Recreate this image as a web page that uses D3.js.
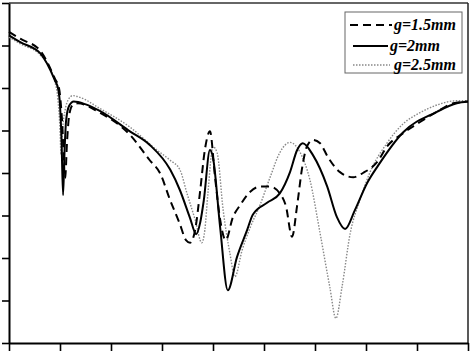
<!DOCTYPE html>
<html><head><meta charset="utf-8">
<script src="https://cdn.jsdelivr.net/npm/d3@7"></script>
<style>body{margin:0;background:#fff}svg{display:block}</style>
</head><body>
<svg id="c" width="474" height="353"></svg>
<script>
// x positions (arbitrary units, 9 intervals) and S-parameter-like values (dB)
const xTicks = [0,1,2,3,4,5,6,7,8,9];
const yTicks = [-40,-35,-30,-25,-20,-15,-10,-5,0];
const seriesNames = ["g=1.5mm","g=2mm","g=2.5mm"];

const g15x = [0,0.22,0.61,0.90,0.98,1.04,1.10,1.14,1.18,1.25,1.35,1.78,2.37,2.76,2.96,3.16,3.35,3.47,3.55,3.65,3.75,3.84,3.94,4.04,4.14,4.25,4.39,4.53,4.73,4.92,5.12,5.31,5.43,5.55,5.65,5.75,5.84,5.96,6.10,6.25,6.49,6.75,6.94,7.22,7.41,7.73,8.06,8.39,8.71,9.0];
const g15y = [-3.4,-4.2,-5.6,-8.9,-10.0,-13.8,-20.6,-16.1,-13.2,-12.0,-11.8,-12.9,-15.5,-18.5,-20.0,-23.2,-26.0,-27.9,-28.2,-26.7,-22.0,-17.3,-15.1,-20.5,-25.5,-27.9,-25.2,-23.8,-22.2,-21.6,-21.6,-22.4,-23.9,-27.5,-23.8,-19.3,-16.9,-16.1,-16.5,-18.1,-19.9,-20.5,-20.0,-18.7,-16.9,-15.3,-14.0,-12.8,-11.8,-11.6];

const g2x = [0,0.22,0.61,0.90,0.96,1.0,1.03,1.06,1.09,1.12,1.18,1.27,1.49,1.78,2.37,2.76,3.16,3.35,3.55,3.67,3.75,3.82,3.94,4.0,4.14,4.29,4.47,4.67,4.78,5.06,5.31,5.51,5.65,5.76,5.96,6.24,6.43,6.59,6.78,7.02,7.24,7.73,8.39,8.78,9.0];
const g2y = [-3.8,-4.6,-5.9,-9.1,-10.0,-12.0,-16.1,-22.6,-17.3,-13.8,-12.1,-11.6,-11.9,-12.7,-15.1,-16.7,-19.6,-22.0,-25.3,-27.2,-25.8,-23.2,-17.3,-18.2,-26.4,-33.8,-29.9,-26.7,-24.9,-23.5,-22.4,-19.9,-17.3,-16.5,-17.9,-21.6,-25.2,-26.6,-24.4,-21.2,-19.1,-15.2,-12.8,-11.8,-11.6];

const g25x = [0,0.22,0.61,0.90,0.96,1.0,1.02,1.05,1.10,1.16,1.25,1.39,1.78,2.37,2.90,3.16,3.35,3.49,3.65,3.78,3.84,3.90,4.0,4.08,4.20,4.33,4.43,4.57,4.73,4.92,5.12,5.31,5.51,5.71,5.90,6.10,6.29,6.41,6.53,6.69,6.88,7.08,7.41,7.73,8.06,8.39,8.78,9.0];
const g25y = [-4.0,-4.8,-6.1,-9.3,-11.4,-14.9,-17.9,-14.9,-12.6,-11.4,-10.9,-11.1,-12.4,-14.6,-17.3,-18.5,-19.6,-22.4,-25.5,-28.2,-26.7,-22.4,-16.9,-17.6,-24.4,-29.4,-32.2,-29.1,-26.4,-23.8,-20.5,-17.6,-16.4,-17.6,-20.8,-27.1,-33.4,-37.1,-33.4,-27.1,-23.2,-19.9,-16.5,-14.2,-12.9,-12.0,-11.5,-11.5];

const svg = d3.select("#c");
const L = 9, R = 468, T = 3, B = 343;
const x = d3.scaleLinear().domain([0,9]).range([L,R]);
const y = d3.scaleLinear().domain([-40,0]).range([B,T]);

// frame top/right
svg.append("line").attr("x1",L).attr("x2",R).attr("y1",T).attr("y2",T).attr("stroke","#333").attr("stroke-width",1.5);
svg.append("line").attr("x1",R).attr("x2",R).attr("y1",T).attr("y2",B).attr("stroke","#222").attr("stroke-width",1.5);

const ax = svg.append("g").attr("transform",`translate(0,${B})`)
  .call(d3.axisBottom(x).tickValues(xTicks).tickFormat("").tickSize(8).tickSizeOuter(0));
const ay = svg.append("g").attr("transform",`translate(${L},0)`)
  .call(d3.axisLeft(y).tickValues(yTicks).tickFormat("").tickSize(7).tickSizeOuter(0));
[ax,ay].forEach(g=>{
  g.select(".domain").attr("stroke","#000").attr("stroke-width",2);
  g.selectAll(".tick line").attr("stroke","#000").attr("stroke-width",1.6);
});

const line = d3.line().x(d=>x(d[0])).y(d=>y(d[1])).curve(d3.curveMonotoneX);
const zip = (a,b)=>a.map((v,i)=>[v,b[i]]);

const styles = [
  {d: zip(g15x,g15y), stroke:"#000", w:2, dash:"8,5"},
  {d: zip(g2x,g2y), stroke:"#000", w:2, dash:null},
  {d: zip(g25x,g25y), stroke:"#888", w:1.4, dash:"1.5,1.5"}
];
// draw dotted first, then solid, then dashed
[2,1,0].forEach(i=>{
  const s = styles[i];
  svg.append("path").datum(s.d).attr("d",line).attr("fill","none")
    .attr("stroke",s.stroke).attr("stroke-width",s.w)
    .attr("stroke-dasharray",s.dash).attr("stroke-linejoin","round");
});

// legend
const lg = svg.append("g");
lg.append("rect").attr("x",345).attr("y",12).attr("width",117).attr("height",61)
  .attr("fill","#fff").attr("stroke","#666").attr("stroke-width",1);
const legY = [25,46,65];
const legX1 = [350,353,353], legX2 = [392,388,390], txtX = [394,390,394];
seriesNames.forEach((n,i)=>{
  const s = styles[i];
  lg.append("line").attr("x1",legX1[i]).attr("x2",legX2[i]).attr("y1",legY[i]).attr("y2",legY[i])
    .attr("stroke",s.stroke).attr("stroke-width",s.w).attr("stroke-dasharray",s.dash);
  lg.append("text").attr("x",txtX[i]).attr("y",legY[i]+5).text(n)
    .attr("font-family","'Liberation Serif','DejaVu Serif',serif").attr("font-size",16)
    .attr("font-weight","bold").attr("font-style","italic").attr("fill","#000");
});
</script>
</body></html>
